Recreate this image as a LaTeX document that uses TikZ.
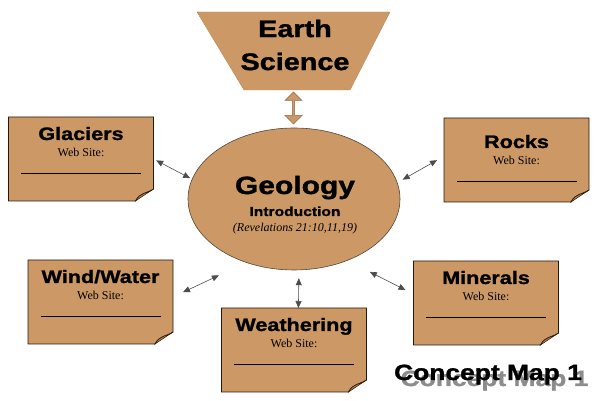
\documentclass[tikz,border=0pt]{standalone}
\usepackage{fontspec}
\setmainfont{Liberation Serif}
\newfontfamily\hdfont[FakeStretch=1.2,FakeBold=1.3]{Liberation Sans}
\usetikzlibrary{arrows.meta,calc,shapes.geometric,shapes.arrows}
\definecolor{clay}{RGB}{204,153,102}
\definecolor{claydark}{RGB}{176,126,80}
\definecolor{rim}{RGB}{40,24,10}
\tikzset{
    >=Triangle,
    cmap/.style={
        x=1pt, y=1pt,
        card/.append style={rectangle,minimum width=145pt,minimum height=84pt,inner sep=0pt,outer sep=0pt},
        cardbody/.append style={fill=clay,draw=rim,line width=0.9pt},
        flap/.append style={fill=claydark,draw=rim,line width=0.5pt},
        title/.append style={font=\hdfont\bfseries\fontsize{18}{20}\selectfont,anchor=base,inner sep=0pt},
        site/.append style={font=\fontsize{12}{14}\selectfont,anchor=base,inner sep=0pt},
        link/.append style={draw=black!70,line width=0.6pt,{Triangle[length=7pt,width=6pt]}-{Triangle[length=7pt,width=6pt]}}
    }
}
% a note card with a curled corner
\newcommand{\notecard}[5]{%
    \node[card] (#1) at (#2,#3) {};
    \filldraw[cardbody] (#1.north west) -- (#1.north east) -- ($(#1.south east)+(0,12)$)
        .. controls ($(#1.south east)+(-7,7)$) and ($(#1.south east)+(-13,9)$) .. ($(#1.south east)+(-18,0)$)
        -- (#1.south west) -- cycle;
    \filldraw[flap] ($(#1.south east)+(0,12)$)
        .. controls ($(#1.south east)+(-7,7)$) and ($(#1.south east)+(-13,9)$) .. ($(#1.south east)+(-18,0)$) -- cycle;
    \node[title] (#1-t) at ($(#1.north)+(0,-23-#5)$) {#4};
    \node[site] (#1-w) at ($(#1.north)+(0,-40-#5)$) {Web Site:};
    \draw[line width=0.8pt] ($(#1.north)+(-60,-56-#5)$) -- ++(120,0);
}

\begin{document}
\begin{tikzpicture}[cmap]
    \useasboundingbox (0,0) rectangle (597,401);

    \filldraw[fill=clay,draw=clay!90!black] (197,389) -- (390,389) -- (350,311) -- (244,311) -- cycle;
    \node[align=center,inner sep=0pt,font=\hdfont\bfseries\fontsize{24}{33}\selectfont] (es) at (295,356) {Earth\\Science};

    \node[ellipse,minimum width=212pt,minimum height=142pt,inner sep=0pt,fill=clay,draw=rim!80,line width=0.6pt] (geo) at (294,202) {};
    \node[anchor=base,inner sep=0pt,font=\hdfont\bfseries\fontsize{25}{28}\selectfont] (geot) at (295,207) {Geology};
    \node[anchor=base,inner sep=0pt,font=\hdfont\bfseries\fontsize{13}{15}\selectfont] (geoi) at (295,185) {Introduction};
    \node[anchor=base,inner sep=0pt,font=\itshape\fontsize{12}{14}\selectfont] (geor) at (295,169) {(Revelations 21:10,11,19)};

    \node[double arrow,rotate=90,minimum height=32pt,minimum width=17pt,double arrow head extend=5.5pt,
          inner sep=0.5pt,fill=clay,draw=clay!70!black,line width=0.5pt] (tie) at (293.5,293) {};

    \notecard{gla}{81}{242}{Glaciers}{0}
    \notecard{roc}{516.5}{241}{Rocks}{7}
    \notecard{win}{100.5}{99}{Wind/Water}{0}
    \notecard{wea}{294}{51}{Weathering}{0}
    \notecard{min}{486}{98}{Minerals}{0}

    \draw[link,shorten <=3pt,shorten >=2pt] (gla.east) -- (geo.169.5);
    \draw[link,shorten <=8pt,shorten >=6pt] (roc.177) -- (geo.9.5);
    \draw[link,shorten <=11pt,shorten >=30pt] (win.4) -- (geo.233);
    \draw[link,shorten <=8pt] (geo.-86.8) -- (wea.84.6);
    \draw[link,shorten <=25pt,shorten >=9pt] (geo.-49) -- (min.173);

    \node[anchor=base,inner sep=0pt,text=black!45,font=\hdfont\bfseries\fontsize{22}{24}\selectfont] (cmshade) at (494.5,15) {Concept Map 1};
    \node[anchor=base,inner sep=0pt,font=\hdfont\bfseries\fontsize{22}{24}\selectfont] (cm) at (488,21) {Concept Map 1};
\end{tikzpicture}
\end{document}
